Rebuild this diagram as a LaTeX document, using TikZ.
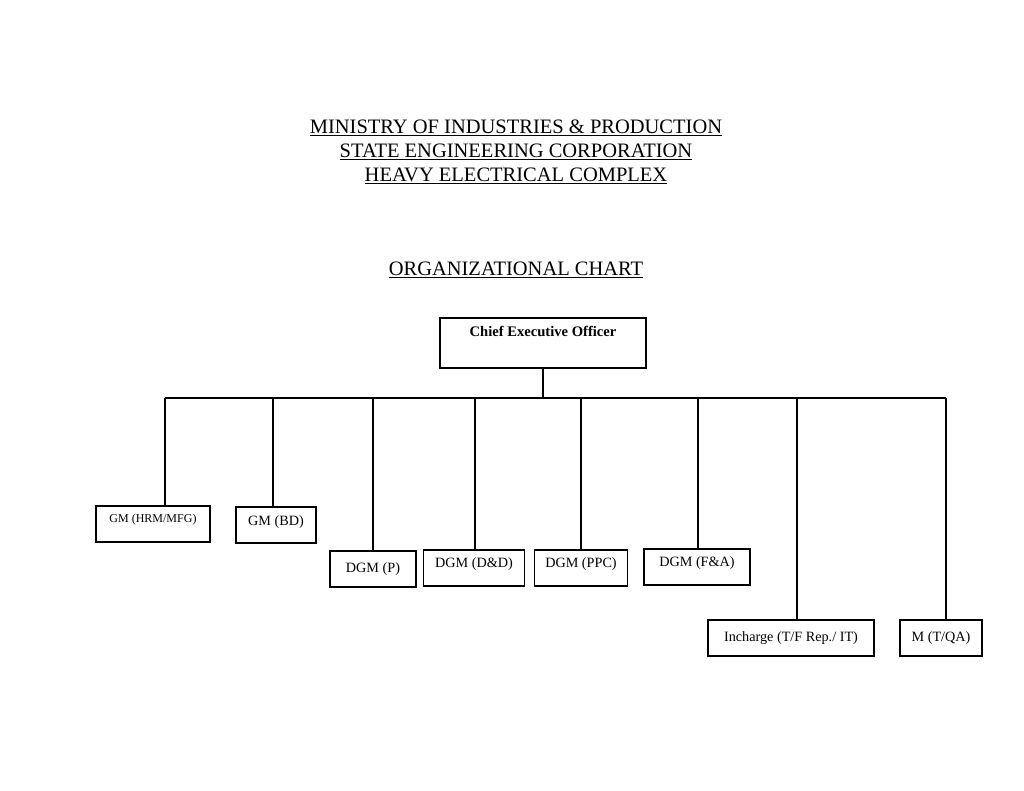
\documentclass[tikz,border=0pt]{standalone}
\usepackage{fontspec}
\setmainfont{Liberation Serif}
\begin{document}
\begin{tikzpicture}[x=1pt,y=-1pt,line width=1.4pt,
  box/.style={draw,rectangle,inner sep=0pt,font=\fontsize{14.2}{16}\selectfont,text height=10pt,text depth=3pt},
  ttl/.style={font=\fontsize{20.5}{24}\selectfont}]
\useasboundingbox (0,0) rectangle (1024,791);
\node[ttl] (t1) at (516,128) {\underline{MINISTRY OF INDUSTRIES \& PRODUCTION}};
\node[ttl] (t2) at (516,152) {\underline{STATE ENGINEERING CORPORATION}};
\node[ttl] (t3) at (516,176) {\underline{HEAVY ELECTRICAL COMPLEX}};
\node[ttl] (t4) at (516,270) {\underline{ORGANIZATIONAL CHART}};
\node[box,minimum width=206pt,minimum height=50pt,text height=30pt,text depth=20pt,font=\bfseries\fontsize{14.6}{16}\selectfont] (ceo) at (543,343) {\raisebox{12pt}{Chief Executive Officer}};
\node[box,minimum width=114pt,minimum height=36pt,font=\fontsize{12}{13}\selectfont] (hrm) at (153,524) {\raisebox{5pt}{GM (HRM/MFG)}};
\node[box,minimum width=80pt,minimum height=36pt] (bd) at (276,525) {\raisebox{3pt}{GM (BD)}};
\node[box,minimum width=86pt,minimum height=36pt] (p) at (373,569) {DGM (P)};
\node[box,minimum width=101pt,minimum height=36pt] (dd) at (474,568) {\raisebox{4pt}{DGM (D\&D)}};
\node[box,minimum width=93pt,minimum height=36pt] (ppc) at (581,568) {\raisebox{4pt}{DGM (PPC)}};
\node[box,minimum width=106pt,minimum height=36pt] (fa) at (697,567) {\raisebox{4pt}{DGM (F\&A)}};
\node[box,minimum width=166pt,minimum height=36pt] (inc) at (791,638) {Incharge (T/F Rep./ IT)};
\node[box,minimum width=82pt,minimum height=36pt] (m) at (941,638) {M (T/QA)};
\coordinate (bus) at (543,398);
\coordinate (bl) at (165,398);
\coordinate (br) at (946,398);
\draw (ceo.south) -- (bus);
\draw (bl) -- (br);
\draw (bl) -- (bl |- hrm.north);
\draw (273,398) -- (273,0 |- bd.north);
\draw (373,398) -- (p.north);
\draw (475,398) -- (475,0 |- dd.north);
\draw (581,398) -- (ppc.north);
\draw (698,398) -- (698,0 |- fa.north);
\draw (797,398) -- (797,0 |- inc.north);
\draw (br) -- (br |- m.north);
\end{tikzpicture}
\end{document}
